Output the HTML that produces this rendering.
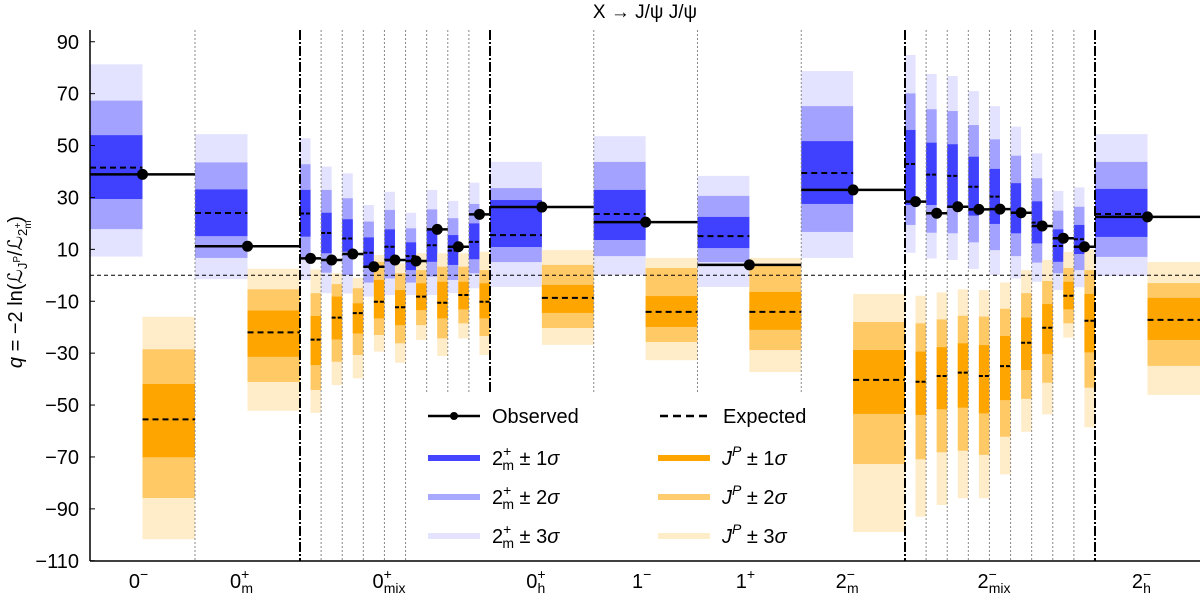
<!DOCTYPE html>
<html><head><meta charset="utf-8"><style>
html,body{margin:0;padding:0;background:#fff}
svg{display:block;font-family:"Liberation Sans",sans-serif}
</style></head><body>
<svg id="chart" width="1200" height="600" viewBox="0 0 1200 600" xmlns="http://www.w3.org/2000/svg">
<g id="bands"></g>
<g id="lines"></g>
<g id="marks"></g>
<g id="axes"></g>
<text x="645" y="18" text-anchor="middle" font-size="19">X → J/ψ J/ψ</text>
<text transform="translate(22,292) rotate(-90)" text-anchor="middle" font-size="20"><tspan font-style="italic">q</tspan> = −2 ln(ℒ<tspan font-size="13" dy="5">J</tspan><tspan font-size="10" dy="-7">P</tspan><tspan dy="2">/ℒ</tspan><tspan font-size="13" dy="5">2</tspan><tspan font-size="10" dy="4">m</tspan><tspan font-size="10" dx="-8" dy="-10">+</tspan><tspan dy="1">)</tspan></text>
<g id="legend">
<rect x="412" y="392" width="433" height="167" fill="#fff"/>
<g><line x1="428" y1="416" x2="480" y2="416" stroke="#000" stroke-width="2.5"/><circle cx="454" cy="416" r="4" fill="#000"/><text x="492" y="423" font-size="20">Observed</text></g>
<g><line x1="660" y1="416" x2="708" y2="416" stroke="#000" stroke-width="2.5" stroke-dasharray="8,5"/><text x="723" y="423" font-size="20">Expected</text></g>
<g><line x1="428" y1="458" x2="480" y2="458" stroke="#4545ff" stroke-width="6"/><text x="492" y="465" font-size="20">2<tspan font-size="14" dy="-9">+</tspan><tspan font-size="14" dx="-9" dy="14">m</tspan><tspan dy="-5"> ± 1</tspan><tspan font-style="italic">σ</tspan></text></g>
<g><line x1="428" y1="497" x2="480" y2="497" stroke="#a8a8ff" stroke-width="6"/><text x="492" y="504" font-size="20">2<tspan font-size="14" dy="-9">+</tspan><tspan font-size="14" dx="-9" dy="14">m</tspan><tspan dy="-5"> ± 2</tspan><tspan font-style="italic">σ</tspan></text></g>
<g><line x1="428" y1="536" x2="480" y2="536" stroke="#e3e3ff" stroke-width="6"/><text x="492" y="543" font-size="20">2<tspan font-size="14" dy="-9">+</tspan><tspan font-size="14" dx="-9" dy="14">m</tspan><tspan dy="-5"> ± 3</tspan><tspan font-style="italic">σ</tspan></text></g>
<g><line x1="658" y1="458" x2="710" y2="458" stroke="#ffa500" stroke-width="6"/><text x="722" y="465" font-size="20"><tspan font-style="italic">J</tspan><tspan font-size="14" font-style="italic" dy="-9">P</tspan><tspan dy="9"> ± 1</tspan><tspan font-style="italic">σ</tspan></text></g>
<g><line x1="658" y1="497" x2="710" y2="497" stroke="#ffcc70" stroke-width="6"/><text x="722" y="504" font-size="20"><tspan font-style="italic">J</tspan><tspan font-size="14" font-style="italic" dy="-9">P</tspan><tspan dy="9"> ± 2</tspan><tspan font-style="italic">σ</tspan></text></g>
<g><line x1="658" y1="536" x2="710" y2="536" stroke="#ffecc9" stroke-width="6"/><text x="722" y="543" font-size="20"><tspan font-style="italic">J</tspan><tspan font-size="14" font-style="italic" dy="-9">P</tspan><tspan dy="9"> ± 3</tspan><tspan font-style="italic">σ</tspan></text></g>
</g>
</svg>
<script>
const catBase = ["0","0","0","0","1","1","2","2","2"];
const catSup = ["−","+","+","+","−","+","−","−","−"];
const catSub = ["","m","mix","h","","","m","mix","h"];
const catSlots = [1,1,9,1,1,1,1,9,1];
const blueBands = [
[81.3,67.3,54,29.4,17.8,7.2],[54.4,43.5,33.1,15.1,6.7,-1.5],
[52.8,42.8,32.9,14.9,6.8,-1.8],[41.9,32.9,24.1,8.5,1,-6.9],[39.3,29.7,21.6,9.1,0.1,-7],[27.1,20.7,14.6,3.3,-2.8,-8.2],[32.2,25.2,17.7,5.2,-1.2,-7.6],[24.1,18.1,12.7,2,-2.8,-7.6],[32.9,25.4,18.1,5.2,-0.5,-7.6],[28.7,22,15.5,4,-1.8,-6.9],[35.7,27.5,20,6.2,0.8,-5],
[43.7,33.6,29,10.9,5.1,-4.5],[53.6,43.7,32.9,13.6,7.4,0],[38.3,30.6,22.5,10.5,5.1,-4.5],[78.7,65.2,51.7,27.5,16.7,6.7],
[84.9,70.1,56,27.1,19.4,8.7],[77.6,64,51.1,27.1,16.4,6.5],[76.8,63.3,50.5,26.7,16.2,5.9],[71,57.9,45.7,23,12.7,2.4],[65.2,52.4,41,19.8,9.7,0.1],[57.3,46.1,35.5,16.2,7.4,-1.2],[47,37.4,28.5,12.3,4.9,-2.5],[32.5,24.9,17.7,5.2,0.8,-5.7],[33.9,26.4,19.4,8.2,2,-4.6],
[54.4,43.7,33.3,14.8,7.1,-0.3]];
const blueExp = [41.5,24,23.8,16.3,14.2,8.7,11,7.4,11.6,9.5,12.9,15.5,23.6,15.1,39.4,42.9,38.8,38.3,34.1,30.3,24.1,20.3,11.3,13.9,23.6];
const orangeBands = [
[-16,-28.5,-41.9,-70.1,-85.8,-101.7],[2.5,-5.4,-13.6,-31.4,-41.1,-52.2],
[2.3,-6.9,-15.7,-34.6,-44.2,-53],[0.8,-3.4,-8.2,-24.7,-33.3,-42.3],[-1,-5,-10.8,-22.4,-30.7,-39.7],[7.8,5.2,-1.8,-16.6,-23,-29.4],[4.6,0.8,-5.7,-19.2,-26.2,-33.7],[8.5,2,-3.1,-13.4,-19.2,-24.9],[8.5,3.3,-2.5,-16.6,-24.3,-31.1],[8.5,3.3,-2.5,-13.1,-18.5,-24.3],[9.1,2,-3.1,-16.6,-23.4,-30.7],
[9.7,4,-3.7,-14.5,-20.3,-26.8],[6.7,2.8,-8,-19.9,-25.7,-32.7],[6.7,3.6,-6.4,-21,-28.8,-37.3],[-7.2,-18,-28.8,-53.4,-72.7,-98.9],
[-7.9,-18.5,-29.4,-53.8,-70.9,-93],[-6.6,-17,-27.7,-51.6,-68.2,-88.5],[-5.4,-15.6,-26.2,-51,-67.6,-85.9],[-5.7,-15.9,-26.9,-53.2,-69.2,-85.9],[-2.8,-12.9,-23.4,-48.1,-62.2,-76.7],[2,-6.9,-16.3,-36.5,-47.6,-60.3],[5.9,-2.2,-11.1,-30.3,-41.4,-53.6],[9,2.8,-2.5,-13.1,-18.5,-24],[10,2,-7.2,-29.7,-43.3,-58.6],
[5.1,-3,-8.7,-24.9,-34.9,-46.1]];
const orangeExp = [-55.5,-22,-24.8,-16.3,-14.6,-10.2,-12.3,-8.2,-10.6,-7.6,-10.2,-8.7,-14.1,-14.1,-40.3,-41,-38.8,-37.5,-38.8,-35,-26,-20.2,-7.9,-17.5,-17.2];
const observed = [38.9,11.2,6.5,5.9,8.2,3.3,5.9,5.5,17.7,11,23.5,26.3,20.5,4,32.9,28.4,23.9,26.4,25.4,25.5,24.1,19,14.3,11,22.5];
const yTicks = [90,70,50,30,10,-10,-30,-50,-70,-90,-110];

const NS="http://www.w3.org/2000/svg";
const X0=90, X1=1200, YTOP=30, YBOT=561;
function y(v){return 275.3 - v*2.595;}
const catWidth=[105,105,190,103.75,103.75,103.75,103.75,190,105];
const slots=[]; const catX=[]; let cx=X0;
catSlots.forEach((n,i)=>{catX.push([cx,cx+catWidth[i]]);const w=catWidth[i]/n;for(let k=0;k<n;k++){slots.push({x0:cx+k*w,x1:cx+(k+1)*w,cat:i,k:k,n:n});}cx+=catWidth[i];});
function mk(tag,attrs,parent){const e=document.createElementNS(NS,tag);for(const a in attrs)e.setAttribute(a,attrs[a]);parent.appendChild(e);return e;}
const gB=document.getElementById('bands'),gL=document.getElementById('lines'),gM=document.getElementById('marks'),gA=document.getElementById('axes');
const blueCols=['#e3e3ff','#a3a3ff','#4040ff'], orCols=['#ffecc9','#ffc966','#ffa500'];
slots.forEach((s,i)=>{
  const mid=(s.x0+s.x1)/2;
  [[blueBands[i],blueCols,s.x0,mid,'blue'],[orangeBands[i],orCols,mid,s.x1,'orange']].forEach(([b,cols,a,c,nm])=>{
    for(let l=0;l<3;l++){
      const hi=b[l], lo=b[5-l];
      const r=mk('rect',{x:a,y:y(hi),width:c-a,height:y(lo)-y(hi),fill:cols[l]},gB);
      
      
    }
  });
});
const z=mk('line',{x1:X0,x2:X1,y1:y(0),y2:y(0),stroke:'#000','stroke-width':1,'stroke-dasharray':'4,3'},gL);


slots.forEach((s,i)=>{
  if(i===0)return;
  const major=(s.k===0)&&(catSlots[s.cat]>1||catSlots[slots[i-1].cat]>1);
  let yEnd=YBOT;
  if(s.x0>415&&s.x0<845) yEnd=392;
  const l=mk('line',{x1:s.x0,x2:s.x0,y1:YTOP,y2:yEnd,stroke:major?'#000':'#888','stroke-width':major?2:1,'stroke-dasharray':major?'10,2,2,2':'2,2'},gL);
  
  
});
slots.forEach((s,i)=>{
  const mid=(s.x0+s.x1)/2;
  const dash=s.n>1?'4,2':'6,4';
  const e1=mk('line',{x1:s.x0,x2:mid,y1:y(blueExp[i]),y2:y(blueExp[i]),stroke:'#000','stroke-width':2,'stroke-dasharray':dash},gM);
  
  
  const e2=mk('line',{x1:mid,x2:s.x1,y1:y(orangeExp[i]),y2:y(orangeExp[i]),stroke:'#000','stroke-width':2,'stroke-dasharray':dash},gM);
  
  
});
slots.forEach((s,i)=>{
  const mid=(s.x0+s.x1)/2;
  const l=mk('line',{x1:s.x0,x2:s.x1,y1:y(observed[i]),y2:y(observed[i]),stroke:'#000','stroke-width':2.5},gM);
  
  
  const c=mk('circle',{cx:mid,cy:y(observed[i]),r:5.5,fill:'#000'},gM);
  
  
});
const ax=mk('line',{x1:X0,x2:X0,y1:YTOP,y2:YBOT,stroke:'#000','stroke-width':1.5},gA);


const bx=mk('line',{x1:X0,x2:X1,y1:YBOT,y2:YBOT,stroke:'#000','stroke-width':1.5},gA);


yTicks.forEach(v=>{
  const t=mk('line',{x1:X0,x2:X0+5,y1:y(v),y2:y(v),stroke:'#000','stroke-width':1},gA);
  
  
  const tx=mk('text',{x:79,y:y(v)+7,'text-anchor':'end','font-size':20},gA);
  tx.textContent=(v<0?'−'+Math.abs(v):String(v));
  
  
});
catBase.forEach((b,i)=>{
  const m=(catX[i][0]+catX[i][1])/2;
  const t=mk('text',{x:m-(catSub[i]?6:4),y:588,'text-anchor':'middle','font-size':20},gA);
  
  
  const s1=mk('tspan',{},t);s1.textContent=b;
  const s2=mk('tspan',{'font-size':14,dy:-9},t);s2.textContent=catSup[i];
  if(catSub[i]){const s3=mk('tspan',{'font-size':14,dx:-8,dy:14},t);s3.textContent=catSub[i];}
});
</script>
</body></html>
